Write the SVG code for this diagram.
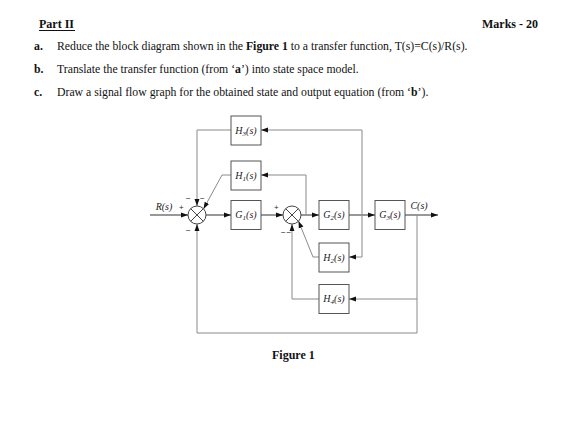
<svg xmlns="http://www.w3.org/2000/svg" width="577" height="431" viewBox="0 0 577 431">
<defs>
<marker id="ah" viewBox="0 0 10 10" refX="10" refY="5" markerWidth="7" markerHeight="7" markerUnits="userSpaceOnUse" orient="auto">
<path d="M0,1.5 L10,5 L0,8.5 z" fill="#111"/>
</marker>
<style>
.t{font-family:"Liberation Serif","Times New Roman",serif;font-size:12px;fill:#111}
.q{font-size:11.75px}
.b{font-weight:bold}
.blk{fill:#fff;stroke:#555;stroke-width:1}
.lbl{font-family:"Liberation Serif","Times New Roman",serif;font-style:italic;font-size:10px;fill:#222;text-anchor:middle}
.sub{font-size:7px}
.fw{fill:none;stroke:#333;stroke-width:1}
.fb{fill:none;stroke:#8a8a8a;stroke-width:1}
.sg{font-family:"Liberation Sans",Arial,sans-serif;font-size:8px;fill:#222}
.sum{fill:#fff;stroke:#444;stroke-width:1}
</style>
</defs>
<rect width="577" height="431" fill="#fff"/>

<g id="header">
<text class="t b" x="39" y="28">Part II</text>
<line x1="39" y1="30.5" x2="75" y2="30.5" stroke="#111" stroke-width="1"/>
<text class="t b" x="482" y="28">Marks - 20</text>
<text class="t q b" x="34" y="50">a.</text>
<text class="t q" x="57" y="50">Reduce the block diagram shown in the <tspan class="b">Figure 1</tspan> to a transfer function, T(s)=C(s)/R(s).</text>
<text class="t q b" x="34" y="73">b.</text>
<text class="t q" x="57" y="73">Translate the transfer function (from ‘<tspan class="b">a</tspan>’) into state space model.</text>
<text class="t q b" x="34" y="96">c.</text>
<text class="t q" x="57" y="96">Draw a signal flow graph for the obtained state and output equation (from ‘<tspan class="b">b</tspan>’).</text>
</g>

<g id="connectors">
<line class="fw" x1="150" y1="215" x2="188" y2="215" marker-end="url(#ah)"/>
<line class="fw" x1="206" y1="215" x2="231" y2="215" marker-end="url(#ah)"/>
<line class="fw" x1="261" y1="215" x2="283" y2="215" marker-end="url(#ah)"/>
<line class="fw" x1="301" y1="215" x2="319" y2="215" marker-end="url(#ah)"/>
<line class="fw" x1="349" y1="215" x2="375" y2="215" marker-end="url(#ah)"/>
<line class="fw" x1="405" y1="215" x2="438" y2="215" marker-end="url(#ah)"/>
<polyline class="fb" points="362,215 362,130 261,130" marker-end="url(#ah)"/>
<polyline class="fb" points="231,130 197,130 197,206" marker-end="url(#ah)"/>
<polyline class="fb" points="306,215 306,175 261,175" marker-end="url(#ah)"/>
<polyline class="fb" points="231,175 222,175 203.5,209" marker-end="url(#ah)"/>
<polyline class="fb" points="362,215 362,257 349,257" marker-end="url(#ah)"/>
<polyline class="fb" points="319,257 313,257 298.5,221" marker-end="url(#ah)"/>
<polyline class="fb" points="417,215 417,299 349,299" marker-end="url(#ah)"/>
<polyline class="fb" points="319,299 292,299 292,224" marker-end="url(#ah)"/>
<polyline class="fb" points="417,299 417,333 197,333 197,224" marker-end="url(#ah)"/>
</g>

<g id="sum1">
<circle class="sum" cx="197" cy="215" r="9"/>
<line x1="190.6" y1="208.6" x2="203.4" y2="221.4" stroke="#444"/>
<line x1="203.4" y1="208.6" x2="190.6" y2="221.4" stroke="#444"/>
<text class="sg" x="179" y="210">+</text>
<text class="sg" x="186" y="201">−</text>
<text class="sg" x="200" y="201">−</text>
<text class="sg" x="186" y="233">−</text>
</g>
<g id="sum2">
<circle class="sum" cx="292" cy="215" r="9"/>
<line x1="285.6" y1="208.6" x2="298.4" y2="221.4" stroke="#444"/>
<line x1="298.4" y1="208.6" x2="285.6" y2="221.4" stroke="#444"/>
<text class="sg" x="274" y="210">+</text>
<text class="sg" x="281" y="235">−</text>
<text class="sg" x="286.5" y="235">−</text>
</g>

<g id="H3"><rect class="blk" x="231" y="116" width="30" height="29"/><text class="lbl" x="246" y="133.5">H<tspan class="sub" dy="2">3</tspan><tspan dy="-2">(s)</tspan></text></g>
<g id="H1"><rect class="blk" x="231" y="161" width="30" height="29"/><text class="lbl" x="246" y="178.5">H<tspan class="sub" dy="2">1</tspan><tspan dy="-2">(s)</tspan></text></g>
<g id="G1"><rect class="blk" x="231" y="200.5" width="30" height="29"/><text class="lbl" x="246" y="218">G<tspan class="sub" dy="2">1</tspan><tspan dy="-2">(s)</tspan></text></g>
<g id="G2"><rect class="blk" x="319" y="200.5" width="30" height="29"/><text class="lbl" x="334" y="218">G<tspan class="sub" dy="2">2</tspan><tspan dy="-2">(s)</tspan></text></g>
<g id="G3"><rect class="blk" x="375" y="200.5" width="30" height="29"/><text class="lbl" x="390" y="218">G<tspan class="sub" dy="2">3</tspan><tspan dy="-2">(s)</tspan></text></g>
<g id="H2"><rect class="blk" x="319" y="243" width="30" height="29"/><text class="lbl" x="334" y="260.5">H<tspan class="sub" dy="2">2</tspan><tspan dy="-2">(s)</tspan></text></g>
<g id="H4"><rect class="blk" x="319" y="284.5" width="30" height="29"/><text class="lbl" x="334" y="302">H<tspan class="sub" dy="2">4</tspan><tspan dy="-2">(s)</tspan></text></g>

<g id="io-labels">
<text class="lbl" x="164" y="210">R(s)</text>
<text class="lbl" x="419" y="209">C(s)</text>
</g>

<g id="caption">
<text class="t b" x="272" y="359">Figure 1</text>
</g>
</svg>
